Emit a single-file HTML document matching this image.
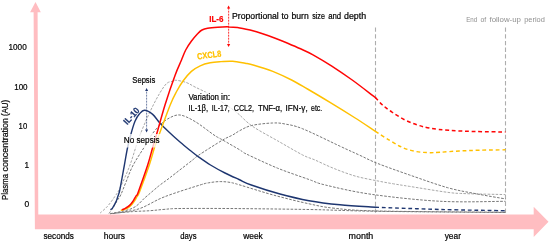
<!DOCTYPE html>
<html><head><meta charset="utf-8"><title>Plasma cytokine concentration after burn</title>
<style>
html,body{margin:0;padding:0;background:#fff;}
svg{display:block;font-family:"Liberation Sans","DejaVu Sans",sans-serif;}
</style></head><body>
<svg width="550" height="242" viewBox="0 0 550 242">
<rect width="550" height="242" fill="#fff"/>

<path d="M34.9 229.2 L33.6 12.3 H30.1 L35.5 1.9 L40.8 12.3 H37.6 L38.3 214.4 H533.7 V206.7 L548.5 221.8 L533.7 237 V229.2 Z" fill="#ffbdc1"/>
<g fill="none" stroke="#adadad" stroke-width="1.1" stroke-dasharray="4.3 2.4">
<path d="M375.5 27.5 V213"/><path d="M505.5 27.5 V213"/></g>
<g fill="none" stroke="#777" stroke-width="1" stroke-dasharray="2.6 1.4">
<path d="M100.0 213.2 C101.2 212.0 105.0 209.1 107.5 206.3 C110.0 203.5 112.9 199.4 115.0 196.3 C117.1 193.2 117.5 193.2 120.0 188.0 C122.5 182.8 126.7 173.8 130.0 165.0 C133.3 156.2 136.1 145.0 140.0 135.0 C143.9 125.0 149.1 113.3 153.3 105.0 C157.5 96.7 162.0 89.0 165.2 85.0 C168.4 81.0 170.8 82.1 172.7 81.3 C174.5 80.5 174.0 80.1 176.3 80.3 C178.6 80.5 183.2 81.4 186.3 82.5 C189.4 83.6 191.4 85.2 195.0 87.0 C198.6 88.8 203.1 90.7 207.6 93.2 C212.1 95.7 217.4 99.0 222.0 102.0 C226.6 105.0 232.4 109.2 235.2 111.3 C238.0 113.4 236.1 111.9 239.0 114.4 C241.9 116.9 246.1 121.9 252.5 126.3 C258.9 130.7 269.2 136.0 277.6 140.8 C286.0 145.6 296.5 151.8 302.7 155.0 C308.9 158.2 310.0 157.8 315.0 160.0 C320.0 162.2 326.1 165.3 332.8 168.0 C339.5 170.7 347.5 173.8 355.0 176.0 C362.5 178.2 371.6 179.7 378.0 181.0 C384.4 182.3 388.0 182.9 393.3 183.8 C398.6 184.7 400.6 185.0 409.6 186.4 C418.6 187.8 438.1 191.1 447.3 192.3 C456.5 193.5 455.3 193.2 465.0 193.6 C474.7 194.0 498.8 194.4 505.5 194.6" stroke="#a8a8a8"/>
<path d="M109.0 213.5 C109.8 212.4 112.1 209.2 113.5 207.0 C114.9 204.8 116.0 202.5 117.2 200.5 C118.4 198.5 119.2 198.1 120.7 195.0 C122.2 191.9 123.9 187.0 126.0 182.0 C128.1 177.0 129.8 171.4 133.2 165.0 C136.6 158.6 143.4 148.8 146.4 143.8 C149.4 138.8 149.1 138.1 151.4 135.0 C153.7 131.9 157.1 127.8 160.0 125.0 C162.9 122.2 165.7 119.9 169.0 118.2 C172.3 116.5 175.7 114.5 180.0 115.0 C184.3 115.5 189.3 118.2 195.0 121.5 C200.7 124.8 209.4 131.9 214.0 135.0 C218.6 138.1 218.4 137.5 222.7 140.0 C227.0 142.5 236.1 147.7 240.0 150.0 C243.9 152.3 240.0 151.0 246.3 154.0 C252.6 157.0 267.2 163.9 277.6 168.2 C288.1 172.4 301.1 176.7 309.0 179.5 C316.9 182.3 314.8 182.5 325.3 185.0 C335.8 187.5 352.7 191.7 372.0 194.4 C391.3 197.1 418.8 200.2 441.0 201.3 C463.2 202.5 494.8 201.3 505.5 201.3"/>
<path d="M110.0 213.8 C113.8 212.9 126.7 210.9 132.6 208.2 C138.5 205.5 141.6 200.5 145.2 197.5 C148.8 194.5 151.5 192.1 154.0 190.0 C156.5 187.9 157.3 187.1 160.0 185.0 C162.7 182.9 164.6 181.8 170.0 177.6 C175.4 173.4 187.8 163.8 192.6 160.0 C197.4 156.2 193.9 158.3 198.9 155.0 C203.9 151.7 217.1 143.3 222.7 140.0 C228.3 136.7 229.8 136.6 232.7 135.0 C235.6 133.4 236.8 132.1 240.0 130.5 C243.2 128.9 246.2 126.8 251.6 125.5 C257.0 124.2 267.0 123.2 272.6 123.0 C278.2 122.8 280.0 123.0 285.0 124.0 C290.0 125.0 293.5 125.1 302.7 128.8 C311.9 132.5 331.0 142.0 340.4 146.4 C349.8 150.8 352.9 152.1 359.2 155.0 C365.5 157.9 369.6 160.3 378.0 163.6 C386.4 166.9 398.1 171.0 409.6 175.0 C421.2 179.0 436.0 184.4 447.3 187.6 C458.6 190.8 467.7 192.1 477.4 194.0 C487.1 195.9 500.8 198.1 505.5 198.9"/>
<path d="M113.0 213.6 C117.3 212.8 130.5 211.6 139.0 208.8 C147.5 206.0 153.8 201.0 164.0 197.0 C174.2 193.0 192.3 187.4 200.0 185.0 C207.7 182.6 206.6 183.2 210.0 182.6 C213.4 182.0 216.9 181.6 220.2 181.6 C223.5 181.6 226.7 181.8 230.0 182.4 C233.3 183.0 232.5 182.8 240.0 185.0 C247.5 187.2 263.5 192.4 275.0 195.5 C286.5 198.6 299.2 201.7 309.0 203.8 C318.8 205.9 322.5 207.0 334.0 208.2 C345.5 209.4 349.4 210.3 378.0 211.0 C406.6 211.7 484.2 212.1 505.5 212.3"/>
<path d="M110.7 213.5 C114.3 213.2 126.0 212.1 132.6 211.6 C139.2 211.1 144.8 211.1 150.0 210.7 C155.2 210.3 158.8 209.8 164.0 209.4 C169.2 209.0 168.7 208.6 181.4 208.5 C194.1 208.4 218.7 208.4 240.0 208.6 C261.3 208.8 286.0 209.1 309.0 209.5 C332.0 209.9 345.2 210.8 378.0 211.3 C410.8 211.8 484.2 212.3 505.5 212.5"/>
</g>
<rect x="186" y="92" width="138" height="21" fill="#fff" fill-opacity="0.65"/>
<g fill="none" stroke="#1e3670" stroke-width="1.4" stroke-linecap="round">
<path d="M110.9 209.4 C111.2 209.2 112.0 208.8 112.5 208.1 C113.0 207.4 113.6 206.2 114.2 205.2 C114.8 204.2 115.4 202.9 115.9 201.9 C116.4 200.9 116.8 199.9 117.1 198.9 C117.4 197.9 117.5 197.5 118.0 196.0 C118.5 194.5 118.7 195.2 119.8 190.0 C120.9 184.8 123.1 172.1 124.4 165.0 C125.7 157.9 126.5 152.5 127.6 147.5 C128.6 142.5 129.5 139.4 130.7 135.0 C131.9 130.6 133.5 124.8 135.0 121.3 C136.5 117.8 137.9 115.6 139.5 113.8 C141.1 112.0 142.3 110.2 144.5 110.3 C146.7 110.4 150.1 112.2 152.7 114.4 C155.3 116.6 157.1 120.1 160.0 123.2 C162.9 126.3 166.7 129.8 170.0 132.9 C173.3 136.0 176.7 139.1 180.0 142.0 C183.3 144.9 186.9 147.8 190.0 150.3 C193.1 152.8 195.1 154.5 198.5 156.9 C201.9 159.3 206.1 162.3 210.5 165.0 C214.9 167.7 220.2 170.6 225.0 173.0 C229.8 175.4 234.6 177.5 239.0 179.5 C243.4 181.5 244.5 182.6 251.3 185.0 C258.1 187.4 270.4 191.4 280.0 194.0 C289.6 196.6 299.0 198.9 309.0 200.7 C319.0 202.5 328.9 203.7 340.0 204.8 C351.1 205.9 369.5 206.8 375.4 207.2"/>
<path d="M375.4 207.2 C386.3 207.6 419.3 208.9 441.0 209.5 C462.7 210.1 494.8 210.5 505.5 210.7" stroke-dasharray="3.8 2.8" stroke-linecap="butt"/></g>
<g fill="none" stroke="#ffc000" stroke-width="1.45" stroke-linecap="round">
<path d="M121.3 210.2 C121.8 210.1 123.3 209.8 124.5 209.4 C125.7 209.0 127.1 208.4 128.3 207.6 C129.5 206.8 130.8 205.7 131.8 204.6 C132.8 203.5 133.5 202.5 134.4 201.2 C135.3 199.8 136.2 198.0 137.1 196.5 C137.9 195.0 137.5 197.2 139.5 192.0 C141.5 186.8 146.8 172.4 149.3 165.0 C151.8 157.6 152.9 152.5 154.5 147.5 C156.1 142.5 156.4 142.1 159.0 135.0 C161.6 127.9 167.3 112.2 170.2 105.0 C173.1 97.8 174.1 96.0 176.3 92.0 C178.5 88.0 180.7 84.2 183.2 80.8 C185.7 77.4 188.6 73.9 191.4 71.4 C194.2 68.9 197.1 67.2 200.2 65.8 C203.3 64.4 206.7 63.5 210.2 62.8 C213.7 62.1 217.2 61.9 221.0 61.6 C224.8 61.4 228.7 61.0 232.7 61.3 C236.7 61.6 241.6 62.6 245.2 63.2 C248.8 63.9 249.4 63.9 254.0 65.2 C258.6 66.5 266.5 68.8 272.8 71.3 C279.1 73.8 285.8 77.0 291.6 80.0 C297.4 83.0 301.1 85.3 307.5 89.0 C313.9 92.7 322.1 97.6 330.0 102.4 C337.9 107.2 347.6 113.2 355.2 118.0 C362.8 122.8 372.0 129.1 375.4 131.3"/>
<path d="M375.4 131.3 C377.8 132.9 385.5 137.9 390.0 140.6 C394.5 143.3 398.3 145.7 402.5 147.5 C406.7 149.3 410.8 150.5 415.0 151.3 C419.2 152.2 423.4 152.4 427.6 152.6 C431.8 152.8 434.8 152.6 440.0 152.3 C445.2 152.0 452.3 151.3 459.0 151.0 C465.7 150.7 472.2 150.4 480.0 150.2 C487.8 150.0 501.2 149.9 505.5 149.8" stroke-dasharray="3.8 2.8" stroke-linecap="butt"/></g>
<g fill="none" stroke="#ff0505" stroke-width="1.5" stroke-linecap="round">
<path d="M122.4 209.6 C122.8 209.4 123.6 209.1 124.5 208.7 C125.4 208.2 126.5 207.7 127.6 206.9 C128.7 206.1 129.9 205.0 130.9 203.9 C131.9 202.8 132.6 201.9 133.4 200.6 C134.2 199.3 135.2 197.4 136.0 196.0 C136.8 194.6 136.4 197.1 138.3 191.9 C140.2 186.7 145.3 172.4 147.7 165.0 C150.1 157.6 151.2 152.5 152.7 147.5 C154.1 142.5 154.3 142.1 156.4 135.0 C158.5 127.9 161.9 115.0 165.0 105.0 C168.1 95.0 172.4 82.5 175.2 75.0 C177.9 67.5 179.8 64.2 181.5 60.0 C183.2 55.8 184.1 53.1 185.7 50.0 C187.3 46.9 189.3 44.0 191.3 41.3 C193.3 38.6 195.8 35.7 197.6 33.8 C199.4 31.9 200.3 30.9 202.0 30.0 C203.7 29.1 205.0 28.7 207.6 28.2 C210.2 27.7 214.1 27.4 217.7 27.2 C221.3 27.0 225.7 26.8 229.0 26.9 C232.3 26.9 234.0 27.0 237.5 27.5 C241.0 28.0 245.9 29.1 250.1 30.1 C254.3 31.2 258.4 32.4 262.6 33.8 C266.8 35.1 271.0 36.6 275.2 38.2 C279.4 39.8 283.5 41.4 287.7 43.2 C291.9 45.0 296.3 46.9 300.5 48.8 C304.7 50.7 307.8 51.9 313.0 54.8 C318.2 57.7 325.3 61.9 331.8 66.1 C338.3 70.3 344.9 74.8 352.2 80.0 C359.5 85.2 371.5 94.7 375.4 97.6"/>
<path d="M375.4 97.6 C376.6 98.8 379.6 102.5 382.5 105.0 C385.4 107.5 388.8 110.0 392.5 112.5 C396.2 115.0 400.8 117.9 405.0 120.0 C409.2 122.1 413.4 123.6 417.6 125.0 C421.8 126.4 424.8 127.3 430.0 128.2 C435.2 129.1 441.5 129.8 449.0 130.3 C456.5 130.9 465.6 131.2 475.0 131.5 C484.4 131.8 500.4 131.9 505.5 132.0" stroke-dasharray="3.8 2.8" stroke-linecap="butt"/></g>
<g stroke="#ff0505" stroke-width="1.1" stroke-dasharray="0.8 0.7" fill="#ff0505"><path d="M228.6 8 V45"/><path d="M228.6 5.5 l-1.6 3 h3.2z M228.6 47 l-1.6 -3 h3.2z" stroke="none"/></g>
<g stroke="#1e3670" stroke-width="1" stroke-dasharray="0.8 0.7" stroke-opacity="0.8" fill="#1e3670"><path d="M146.6 90.5 V130"/><path d="M146.6 87.9 l-1.5 3 h3z M146.6 132.5 l-1.5 -3 h3z" stroke="none"/></g>
<rect x="121.5" y="134" width="40.5" height="13.5" fill="#fff" fill-opacity="0.75"/>
<text x="8.5" y="50.4" font-size="8.8" text-anchor="start" fill="#000" stroke="#000" stroke-width="0.2" font-weight="normal" textLength="18.2" lengthAdjust="spacingAndGlyphs">1000</text>
<text x="14.2" y="89.5" font-size="8.8" text-anchor="start" fill="#000" stroke="#000" stroke-width="0.2" font-weight="normal" textLength="13.4" lengthAdjust="spacingAndGlyphs">100</text>
<text x="18.6" y="128.6" font-size="8.8" text-anchor="start" fill="#000" stroke="#000" stroke-width="0.2" font-weight="normal" textLength="8.6" lengthAdjust="spacingAndGlyphs">10</text>
<text x="24.6" y="167.7" font-size="8.8" text-anchor="start" fill="#000" stroke="#000" stroke-width="0.2" font-weight="normal" textLength="4.6" lengthAdjust="spacingAndGlyphs">1</text>
<text x="24.6" y="206.5" font-size="8.8" text-anchor="start" fill="#000" stroke="#000" stroke-width="0.2" font-weight="normal" textLength="4.7" lengthAdjust="spacingAndGlyphs">0</text>
<text x="43.5" y="239.3" font-size="8.5" text-anchor="start" fill="#000" stroke="#000" stroke-width="0.2" font-weight="normal" textLength="30.4" lengthAdjust="spacingAndGlyphs">seconds</text>
<text x="103.8" y="239.3" font-size="8.5" text-anchor="start" fill="#000" stroke="#000" stroke-width="0.2" font-weight="normal" textLength="21.2" lengthAdjust="spacingAndGlyphs">hours</text>
<text x="180.3" y="239.3" font-size="8.5" text-anchor="start" fill="#000" stroke="#000" stroke-width="0.2" font-weight="normal" textLength="16.3" lengthAdjust="spacingAndGlyphs">days</text>
<text x="243.2" y="239.3" font-size="8.5" text-anchor="start" fill="#000" stroke="#000" stroke-width="0.2" font-weight="normal" textLength="19.6" lengthAdjust="spacingAndGlyphs">week</text>
<text x="348.6" y="239.3" font-size="8.5" text-anchor="start" fill="#000" stroke="#000" stroke-width="0.2" font-weight="normal" textLength="24.7" lengthAdjust="spacingAndGlyphs">month</text>
<text x="444.7" y="239.3" font-size="8.5" text-anchor="start" fill="#000" stroke="#000" stroke-width="0.2" font-weight="normal" textLength="16.3" lengthAdjust="spacingAndGlyphs">year</text>
<text x="232" y="19.1" font-size="8.5" text-anchor="start" fill="#000" stroke="#000" stroke-width="0.2" font-weight="normal" textLength="46.8" lengthAdjust="spacingAndGlyphs">Proportional</text>
<text x="281.4" y="19.1" font-size="8.5" text-anchor="start" fill="#000" stroke="#000" stroke-width="0.2" font-weight="normal" textLength="7.1" lengthAdjust="spacingAndGlyphs">to</text>
<text x="291.5" y="19.1" font-size="8.5" text-anchor="start" fill="#000" stroke="#000" stroke-width="0.2" font-weight="normal" textLength="17.2" lengthAdjust="spacingAndGlyphs">burn</text>
<text x="312.2" y="19.1" font-size="8.5" text-anchor="start" fill="#000" stroke="#000" stroke-width="0.2" font-weight="normal" textLength="12.7" lengthAdjust="spacingAndGlyphs">size</text>
<text x="328.2" y="19.1" font-size="8.5" text-anchor="start" fill="#000" stroke="#000" stroke-width="0.2" font-weight="normal" textLength="13" lengthAdjust="spacingAndGlyphs">and</text>
<text x="344" y="19.1" font-size="8.5" text-anchor="start" fill="#000" stroke="#000" stroke-width="0.2" font-weight="normal" textLength="22.2" lengthAdjust="spacingAndGlyphs">depth</text>
<text x="466.2" y="21.9" font-size="7.2" text-anchor="start" fill="#8f8f8f" stroke="#8f8f8f" stroke-width="0" font-weight="normal" textLength="11" lengthAdjust="spacingAndGlyphs">End</text>
<text x="480.5" y="21.9" font-size="7.2" text-anchor="start" fill="#8f8f8f" stroke="#8f8f8f" stroke-width="0" font-weight="normal" textLength="5.7" lengthAdjust="spacingAndGlyphs">of</text>
<text x="489.5" y="21.9" font-size="7.2" text-anchor="start" fill="#8f8f8f" stroke="#8f8f8f" stroke-width="0" font-weight="normal" textLength="31.4" lengthAdjust="spacingAndGlyphs">follow-up</text>
<text x="524.2" y="21.9" font-size="7.2" text-anchor="start" fill="#8f8f8f" stroke="#8f8f8f" stroke-width="0" font-weight="normal" textLength="20.6" lengthAdjust="spacingAndGlyphs">period</text>
<text x="188.4" y="100.4" font-size="8.5" text-anchor="start" fill="#000" stroke="#000" stroke-width="0.2" font-weight="normal" textLength="30.6" lengthAdjust="spacingAndGlyphs">Variation</text>
<text x="221.1" y="100.4" font-size="8.5" text-anchor="start" fill="#000" stroke="#000" stroke-width="0.2" font-weight="normal" textLength="9.2" lengthAdjust="spacingAndGlyphs">in:</text>
<text x="188.4" y="111.2" font-size="8.5" text-anchor="start" fill="#000" stroke="#000" stroke-width="0.2" font-weight="normal" textLength="19.7" lengthAdjust="spacingAndGlyphs">IL-1β,</text>
<text x="211.8" y="111.2" font-size="8.5" text-anchor="start" fill="#000" stroke="#000" stroke-width="0.2" font-weight="normal" textLength="18" lengthAdjust="spacingAndGlyphs">IL-17,</text>
<text x="233.7" y="111.2" font-size="8.5" text-anchor="start" fill="#000" stroke="#000" stroke-width="0.2" font-weight="normal" textLength="20.4" lengthAdjust="spacingAndGlyphs">CCL2,</text>
<text x="257.9" y="111.2" font-size="8.5" text-anchor="start" fill="#000" stroke="#000" stroke-width="0.2" font-weight="normal" textLength="24.4" lengthAdjust="spacingAndGlyphs">TNF-α,</text>
<text x="285.5" y="111.2" font-size="8.5" text-anchor="start" fill="#000" stroke="#000" stroke-width="0.2" font-weight="normal" textLength="22.2" lengthAdjust="spacingAndGlyphs">IFN-γ,</text>
<text x="311" y="111.2" font-size="8.5" text-anchor="start" fill="#000" stroke="#000" stroke-width="0.2" font-weight="normal" textLength="11.3" lengthAdjust="spacingAndGlyphs">etc.</text>
<text x="209.2" y="22" font-size="9" text-anchor="start" fill="#ff0505" stroke="#ff0505" stroke-width="0.2" font-weight="bold" textLength="14.2" lengthAdjust="spacingAndGlyphs">IL-6</text>
<text x="0" y="0" font-size="8.8" text-anchor="start" fill="#ffc000" stroke="#ffc000" stroke-width="0.2" font-weight="bold" textLength="24.2" lengthAdjust="spacingAndGlyphs" transform="translate(197.5,59.5) rotate(-7.5)">CXCL8</text>
<text x="0" y="0" font-size="9" text-anchor="start" fill="#1e3670" stroke="#1e3670" stroke-width="0.2" font-weight="bold" textLength="19.3" lengthAdjust="spacingAndGlyphs" transform="translate(127.2,125.2) rotate(-48)">IL-10</text>
<text x="132.3" y="83.2" font-size="8.5" text-anchor="start" fill="#000" stroke="#000" stroke-width="0.2" font-weight="normal" textLength="22.9" lengthAdjust="spacingAndGlyphs">Sepsis</text>
<text x="123.8" y="143.2" font-size="8.5" text-anchor="start" fill="#000" stroke="#000" stroke-width="0.2" font-weight="normal" textLength="35.8" lengthAdjust="spacingAndGlyphs">No sepsis</text>
<text x="0" y="0" font-size="8.5" text-anchor="start" fill="#000" stroke="#000" stroke-width="0.2" font-weight="normal" textLength="26" lengthAdjust="spacingAndGlyphs" transform="translate(8.4,200) rotate(-90)">Plasma</text>
<text x="0" y="0" font-size="8.5" text-anchor="start" fill="#000" stroke="#000" stroke-width="0.2" font-weight="normal" textLength="53.5" lengthAdjust="spacingAndGlyphs" transform="translate(8.4,171.5) rotate(-90)">concentration</text>
<text x="0" y="0" font-size="8.5" text-anchor="start" fill="#000" stroke="#000" stroke-width="0.2" font-weight="normal" textLength="16.3" lengthAdjust="spacingAndGlyphs" transform="translate(8.4,116.1) rotate(-90)">(AU)</text>
</svg></body></html>
